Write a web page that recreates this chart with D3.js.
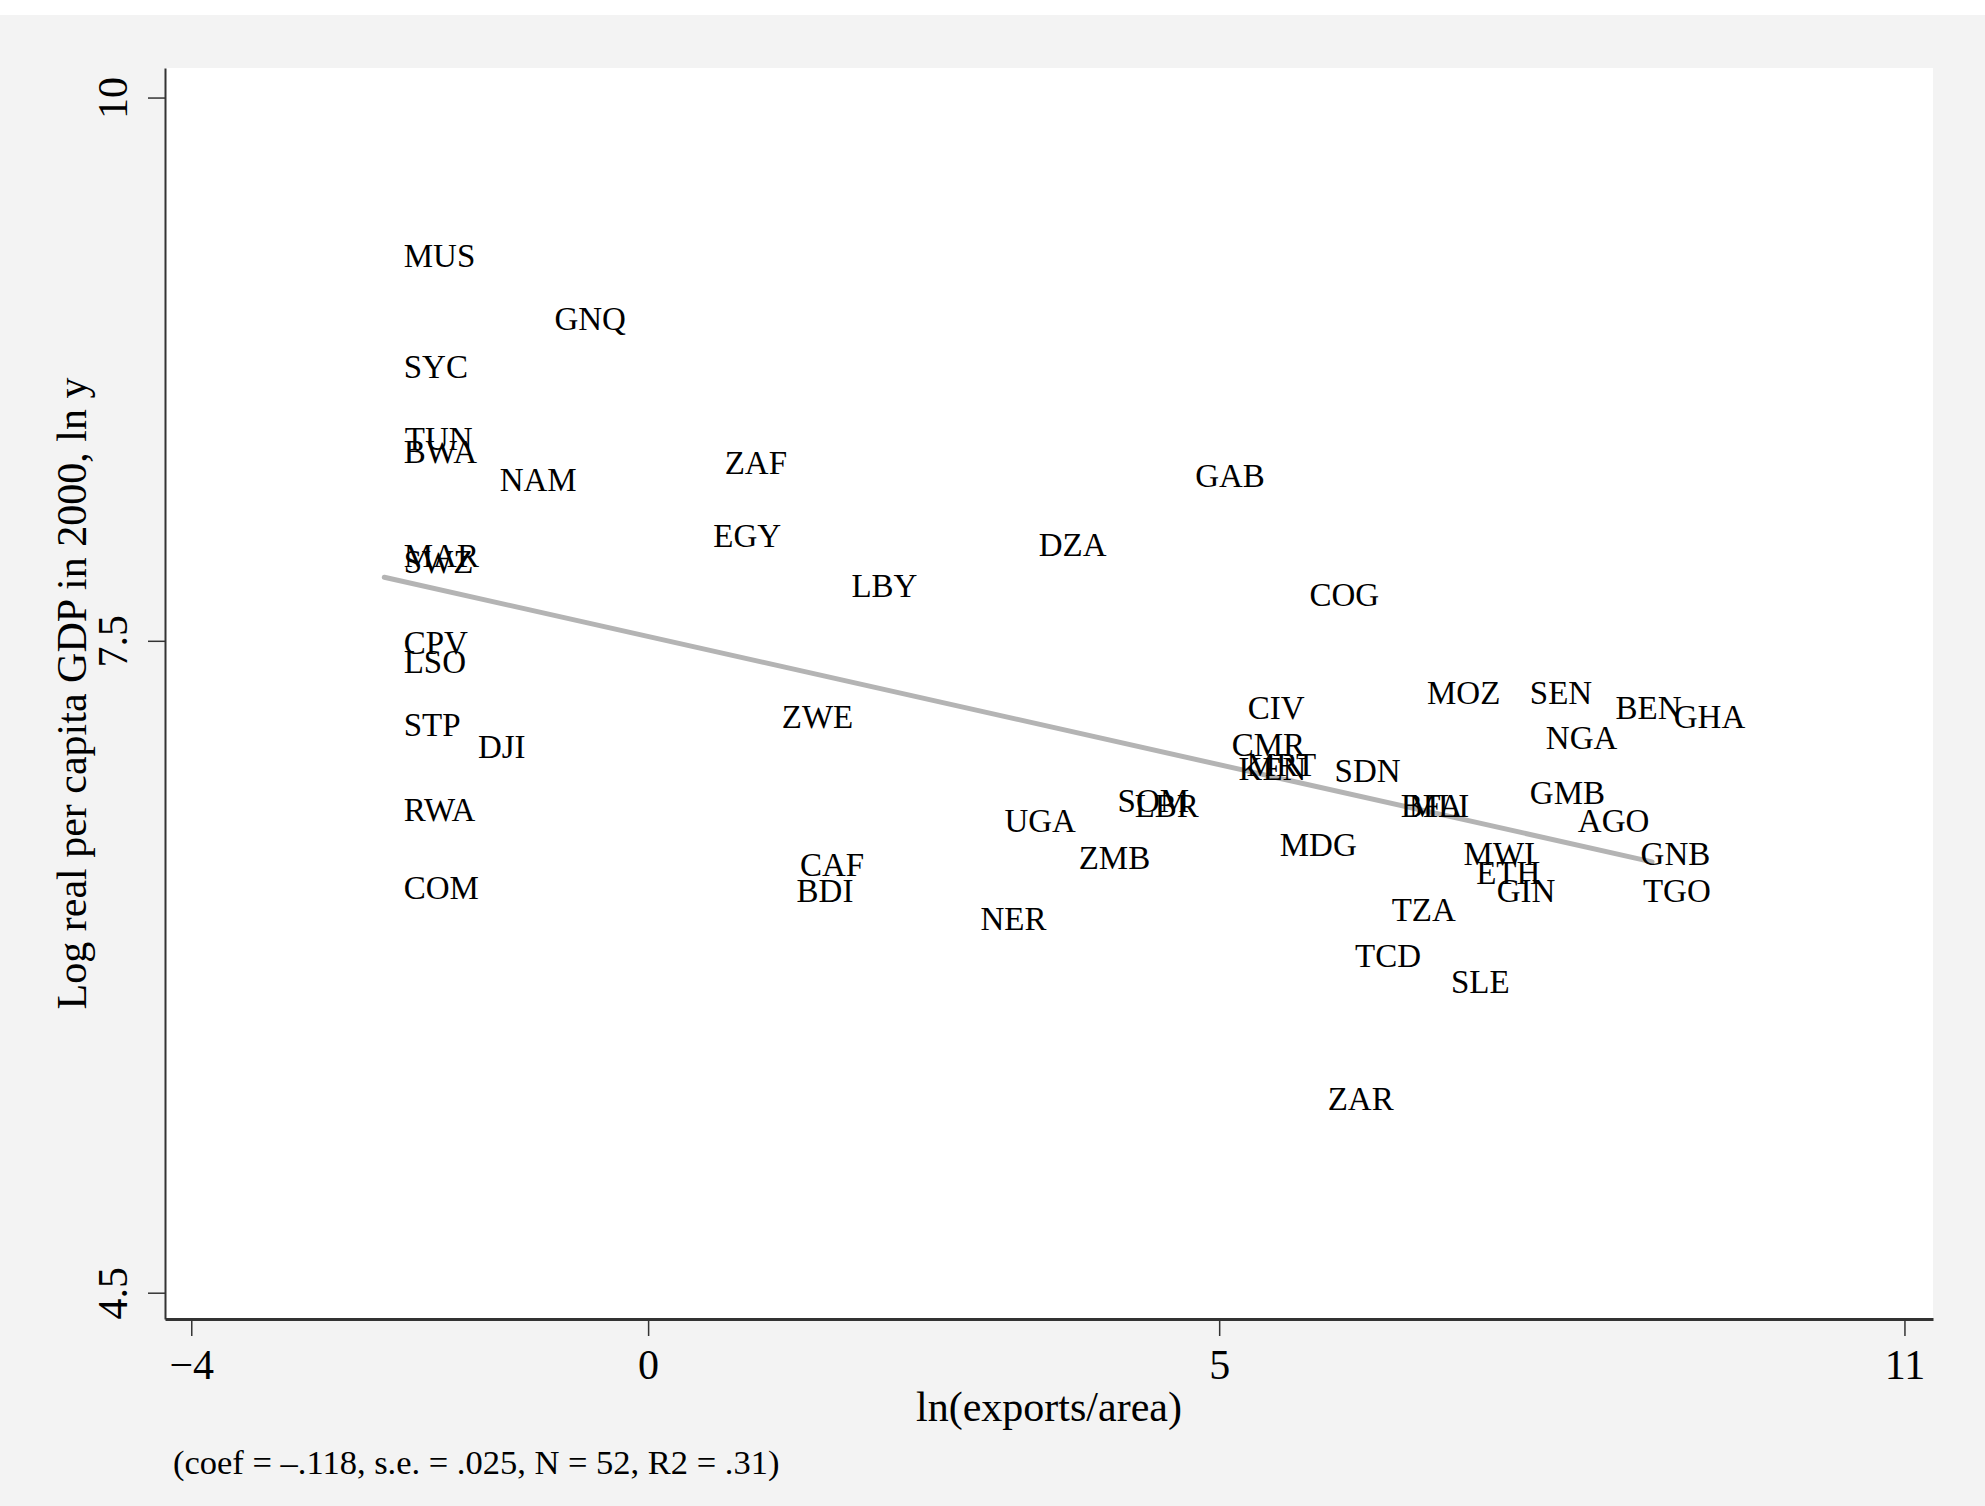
<!DOCTYPE html>
<html>
<head>
<meta charset="utf-8">
<script src="https://cdn.jsdelivr.net/npm/d3@7"></script>
<style>
  body { margin: 0; background: #f3f3f3; }
  svg { display: block; font-family: "Liberation Serif", "Times New Roman", serif; }
</style>
</head>
<body>
<svg width="1985" height="1506"></svg>
<script>
// country codes, ln(exports/area), log real per capita GDP in 2000
const countries = ["MUS","SYC","TUN","BWA","MAR","SWZ","CPV","LSO","STP","RWA","COM",
  "GNQ","NAM","DJI","ZAF","EGY","LBY","ZWE","CAF","BDI","NER",
  "UGA","DZA","ZMB","SOM","LBR","GAB","CMR","KEN","MRT","CIV",
  "MDG","COG","ZAR","SDN","TCD","TZA","BFA","MLI","MOZ","SLE",
  "MWI","ETH","GIN","SEN","GMB","NGA","AGO","BEN","GNB","TGO","GHA"];
const lnExports = [-2.21,-2.21,-2.20,-2.21,-2.21,-2.21,-2.21,-2.21,-2.21,-2.21,-2.21,
  -0.89,-1.37,-1.56,0.60,0.50,1.71,1.10,1.26,1.23,2.84,
  3.05,3.35,3.70,4.04,4.19,4.72,5.04,5.10,5.17,5.18,
  5.46,5.72,5.88,5.94,6.12,6.44,6.52,6.59,6.75,6.96,
  7.07,7.18,7.36,7.65,7.65,7.79,8.07,8.40,8.62,8.64,8.91];
const lnGdp = [9.27,8.76,8.43,8.37,7.89,7.86,7.49,7.40,7.11,6.72,6.36,
  8.98,8.24,7.01,8.32,7.98,7.75,7.15,6.47,6.35,6.22,
  6.67,7.94,6.50,6.76,6.74,8.26,7.02,6.91,6.93,7.19,
  6.56,7.71,5.39,6.90,6.05,6.26,6.74,6.74,7.26,5.93,
  6.52,6.43,6.35,7.26,6.80,7.05,6.67,7.19,6.52,6.35,7.15];

const xTicks = [-4, 0, 5, 11];
const yTicks = [4.5, 7.5, 10];

// fitted line (OLS)
const fitSlope = -0.118;
const fitIntercept = 7.52;
const fitRange = [-2.31, 8.79];

const noteText = "(coef = \u2013.118, s.e. = .025, N = 52, R2 = .31)";

const svg = d3.select("svg");
const width = +svg.attr("width");
const height = +svg.attr("height");
const plot = { left: 165, right: 1933, top: 68, bottom: 1319 };

const data = countries.map((c, i) => ({ code: c, x: lnExports[i], y: lnGdp[i] }));

const xScale = d3.scaleLinear()
    .domain([-4.23, 11.25])
    .range([plot.left, plot.right]);

const yScale = d3.scaleLinear()
    .domain([4.379, 10.136])
    .range([plot.bottom, plot.top]);

// backgrounds
svg.append("rect").attr("width", width).attr("height", height).attr("fill", "#f3f3f3");
svg.append("rect").attr("width", width).attr("height", 15).attr("fill", "#ffffff");
svg.append("rect")
    .attr("x", plot.left).attr("y", plot.top)
    .attr("width", plot.right - plot.left).attr("height", plot.bottom - plot.top)
    .attr("fill", "#ffffff");

// fitted line
const fit = fitRange.map(x => [x, fitIntercept + fitSlope * x]);
svg.append("path")
    .attr("d", d3.line().x(d => xScale(d[0])).y(d => yScale(d[1]))(fit))
    .attr("fill", "none")
    .attr("stroke", "#b4b4b4")
    .attr("stroke-width", 5)
    .attr("stroke-linecap", "round");

// country labels (position 3, right of the point)
svg.append("g")
    .selectAll("text")
    .data(data)
    .join("text")
        .attr("x", d => xScale(d.x) + 8)
        .attr("y", d => yScale(d.y))
        .attr("dy", "0.33em")
        .attr("font-size", 33)
        .attr("fill", "#000")
        .text(d => d.code);

// axes
const xAxis = g => g
    .attr("transform", `translate(0,${plot.bottom})`)
    .call(d3.axisBottom(xScale).tickValues(xTicks).tickSize(17).tickSizeOuter(0).tickPadding(13))
    .call(g => g.select(".domain").attr("stroke", "#333").attr("stroke-width", 3))
    .call(g => g.selectAll(".tick line").attr("stroke", "#333").attr("stroke-width", 1.5))
    .call(g => g.selectAll(".tick text")
        .attr("font-family", "Liberation Serif")
        .attr("font-size", 42)
        .attr("fill", "#000"));

const yAxis = g => g
    .attr("transform", `translate(${plot.left},0)`)
    .call(d3.axisLeft(yScale).tickValues(yTicks).tickFormat(d3.format("~g")).tickSize(17).tickSizeOuter(0))
    .call(g => g.select(".domain").attr("stroke", "#333").attr("stroke-width", 2))
    .call(g => g.selectAll(".tick line").attr("stroke", "#333").attr("stroke-width", 1.5))
    .call(g => g.selectAll(".tick text")
        .attr("font-family", "Liberation Serif")
        .attr("font-size", 42)
        .attr("fill", "#000")
        .attr("x", null).attr("dy", null)
        .attr("text-anchor", "middle")
        .attr("transform", "translate(-38,0) rotate(-90)"));

svg.append("g").call(xAxis);
svg.append("g").call(yAxis);

// titles
svg.append("text")
    .attr("x", (plot.left + plot.right) / 2)
    .attr("y", 1421)
    .attr("text-anchor", "middle")
    .attr("font-size", 42)
    .text("ln(exports/area)");

svg.append("text")
    .attr("transform", `translate(86,${(plot.top + plot.bottom) / 2}) rotate(-90)`)
    .attr("text-anchor", "middle")
    .attr("font-size", 42)
    .text("Log real per capita GDP in 2000, ln y");

svg.append("text")
    .attr("x", 173)
    .attr("y", 1474)
    .attr("font-size", 34.5)
    .text(noteText);
</script>
</body>
</html>
